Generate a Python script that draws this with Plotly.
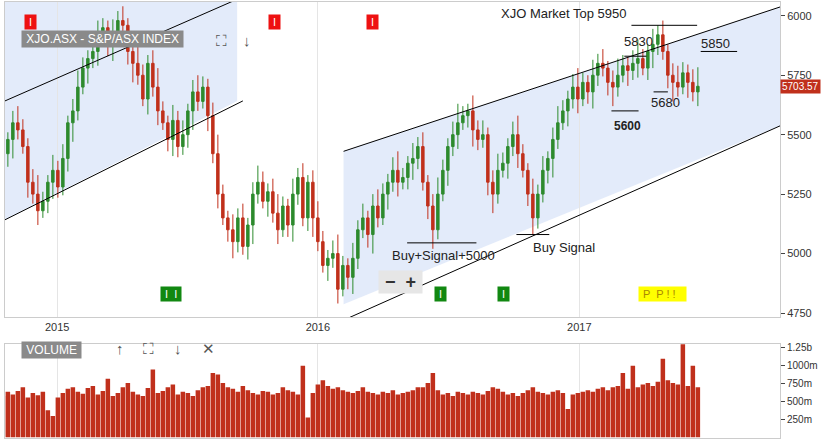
import plotly.graph_objects as go
import pandas as pd

# weekly closes (Oct 2014 - Jun 2017)
closes = [
    5350, 5420, 5480,
    5550, 5520, 5450, 5300,
    5250, 5180, 5220, 5300, 5350,
    5280, 5400, 5550, 5600,
    5700, 5780, 5820, 5850,
    5900, 5950, 5880, 5920,
    5980, 5960, 5850, 5800, 5750,
    5650, 5800, 5700, 5600,
    5550, 5480, 5560, 5450,
    5500, 5600, 5680, 5640, 5700,
    5580, 5420, 5250, 5150,
    5100, 5050, 5150, 5030,
    5120, 5250, 5300, 5220, 5260,
    5170, 5100, 5200, 5120,
    5250, 5320, 5150, 5300,
    5150, 5050, 4950, 4980, 5000,
    4850, 4950, 4900, 4980,
    5100, 5150, 5080, 5200,
    5150, 5250, 5300, 5350, 5300,
    5320, 5380, 5400, 5450,
    5300, 5200, 5100, 5250,
    5350, 5450, 5500, 5550, 5580,
    5600, 5520, 5480, 5500,
    5300, 5250, 5350, 5380,
    5450, 5500, 5420, 5350,
    5250, 5150, 5250, 5350, 5400,
    5480, 5550, 5600, 5650,
    5700, 5650, 5720, 5680,
    5750, 5800, 5780, 5720,
    5700, 5750, 5790, 5770, 5800,
    5820, 5780, 5850, 5880,
    5920, 5850, 5750, 5720,
    5700, 5760, 5720, 5680, 5703.57,
]
opens = [5300] + closes[:-1]
wicks = [40, 60, 30, 50, 70, 45, 35, 55, 80, 40, 30, 65]

volumes = [
    620, 580, 640,
    600, 650, 700, 560,
    620, 590, 640, 380, 300,
    560, 620, 680, 700,
    640, 610, 690, 720,
    600, 650, 820, 580,
    620, 700, 760, 640, 600,
    580, 690, 950, 620,
    650, 700, 740, 600,
    640, 620, 580, 660, 700,
    720, 900, 880, 760,
    700, 680, 640, 720,
    660, 620, 600, 650, 640,
    600, 620, 700, 660,
    640, 600, 1000, 280,
    620, 740, 800, 720, 680,
    700, 660, 640, 620,
    650, 700, 640, 620,
    600, 640, 620, 660, 600,
    620, 640, 660, 700,
    700, 760, 900, 660,
    600, 620, 580, 640, 620,
    600, 640, 620, 600,
    650, 700, 680, 640,
    600, 620, 580, 620,
    660, 700, 640, 620, 600,
    640, 660, 620, 400,
    600, 620, 640, 660,
    640, 680, 700, 660,
    700, 720, 900, 680, 1000,
    700, 740, 760, 720,
    780, 1100, 800, 760,
    740, 1350, 720, 1000, 700,
]

dates = pd.date_range("2014-10-10", periods=len(closes), freq="7D")
highs = [max(o, c) + wicks[i % len(wicks)] for i, (o, c) in enumerate(zip(opens, closes))]
lows = [min(o, c) - wicks[(i + 5) % len(wicks)] for i, (o, c) in enumerate(zip(opens, closes))]

RED = "#c0301c"
GREEN = "#2e8b2e"
X0, X1 = "2014-10-20", "2017-10-09"

fig = go.Figure()
fig.add_trace(go.Candlestick(
    x=dates, open=opens, high=highs, low=lows, close=closes,
    increasing=dict(line=dict(color=GREEN, width=1), fillcolor=GREEN),
    decreasing=dict(line=dict(color=RED, width=1), fillcolor=RED),
    whiskerwidth=0, xaxis="x", yaxis="y", showlegend=False,
))
fig.add_trace(go.Bar(x=dates, y=volumes, marker_color=RED, marker_line_width=0,
                     xaxis="x2", yaxis="y2", showlegend=False))

chan = "rgba(200,215,245,0.5)"
fig.add_shape(type="path", xref="x", yref="y", layer="below", line_width=0, fillcolor=chan,
              path=f"M {X0},5142 L {X0},6058 L 2015-09-10,6058 L 2015-09-10,5642 Z")
fig.add_shape(type="path", xref="x", yref="y", layer="below", line_width=0, fillcolor=chan,
              path=f"M 2016-02-06,4787 L 2016-02-06,5430 L {X1},6037 L {X1},5537 Z")
for x0, y0, x1, y1 in [(X0, 5142, "2015-09-18", 5642),
                       (X0, 5642, "2015-09-18", 6080),
                       ("2016-02-06", 5430, X1, 6037),
                       ("2016-02-06", 4720, X1, 5537)]:
    fig.add_shape(type="line", x0=x0, y0=y0, x1=x1, y1=y1, xref="x", yref="y",
                  line=dict(color="black", width=1))
for x0, x1, lvl in [("2017-03-15", "2017-06-15", 5960), ("2017-06-20", "2017-08-10", 5850),
                    ("2017-03-05", "2017-04-05", 5830), ("2017-04-15", "2017-05-05", 5680),
                    ("2017-02-15", "2017-03-25", 5600), ("2016-05-05", "2016-08-10", 5045),
                    ("2016-10-05", "2016-11-20", 5080)]:
    fig.add_shape(type="line", x0=x0, x1=x1, y0=lvl, y1=lvl, xref="x", yref="y",
                  line=dict(color="black", width=1))

notes = [
    ("2016-12-10", 6010, "XJO Market Top 5950", False),
    ("2017-03-25", 5890, "5830", False),
    ("2017-07-10", 5885, "5850", False),
    ("2017-05-01", 5635, "5680", False),
    ("2017-03-10", 5535, "5600", True),
    ("2016-06-25", 4990, "Buy+Signal+5000", False),
    ("2016-12-10", 5025, "Buy Signal", False),
    ("2016-03-01", 4722, "4700+Support", False),
]
for x, y, t, b in notes:
    fig.add_annotation(x=x, y=y, xref="x", yref="y", text=f"<b>{t}</b>" if b else t,
                       showarrow=False, font=dict(size=13 if not b else 12, color="#222"))

for x, y, t in [(0.02, 0.936, " XJO.ASX - S&P/ASX INDEX "), (0.02, 0.188, " VOLUME ")]:
    fig.add_annotation(x=x, y=y, xref="paper", yref="paper", text=t, showarrow=False,
                       xanchor="left", bgcolor="#8a8a8a", font=dict(color="white", size=12))
for x, y, t in [(0.27, 0.936, "⛶"), (0.305, 0.936, "↓"), (0.14, 0.188, "↑"),
                (0.175, 0.188, "⛶"), (0.215, 0.188, "↓"), (0.252, 0.188, "✕")]:
    fig.add_annotation(x=x, y=y, xref="paper", yref="paper", text=t, showarrow=False,
                       font=dict(size=15, color="#555"))
for x in [0.024, 0.348, 0.474]:
    fig.add_annotation(x=x, y=0.972, xref="paper", yref="paper", text=" I ", showarrow=False,
                       bgcolor="#ee1111", font=dict(color="white", size=11))
for x, t in [(0.2, " I  I "), (0.562, " I "), (0.643, " I ")]:
    fig.add_annotation(x=x, y=0.318, xref="paper", yref="paper", text=t, showarrow=False,
                       bgcolor="#118811", font=dict(color="white", size=11))
fig.add_annotation(x=0.88, y=0.318, xref="paper", yref="paper", text=" P  P ! !   ", showarrow=False,
                   bgcolor="#ffff00", font=dict(color="#aa8800", size=11))
fig.add_annotation(x=0.51, y=0.364, xref="paper", yref="paper", text=" <b>−</b>  <b>+</b> ", showarrow=False,
                   bgcolor="#e6e6e6", font=dict(color="#333", size=18))
fig.add_annotation(x=1.0, y=5703.57, xref="paper", yref="y", text="5703.57", showarrow=False,
                   xanchor="left", bgcolor=RED, font=dict(color="white", size=10))

axis_common = dict(range=[X0, X1], showgrid=True, gridcolor="#e5e5e5", tickformat="%Y",
                   dtick="M12", tick0="2015-01-01", showline=True, linecolor="#ccc",
                   mirror=True, automargin=False)
fig.update_layout(
    width=829, height=444, margin=dict(l=5, r=49, t=2, b=2, autoexpand=False),
    plot_bgcolor="white", paper_bgcolor="white",
    font=dict(family="Arial", size=11, color="#333"),
    xaxis=dict(anchor="y", rangeslider=dict(visible=False), **axis_common),
    xaxis2=dict(anchor="y2", matches="x", showticklabels=False, **axis_common),
    yaxis=dict(domain=[0.284, 1], range=[4733, 6058], side="right", automargin=False,
               tickvals=[4750, 5000, 5250, 5500, 5750, 6000], showgrid=False,
               showline=True, linecolor="#ccc", mirror=True, ticks="outside", ticklen=4),
    yaxis2=dict(domain=[0.01, 0.222], range=[0, 1300], side="right", automargin=False,
                tickvals=[250, 500, 750, 1000, 1250], ticktext=["250m", "500m", "750m", "1000m", "1.25b"],
                showgrid=False, showline=True, linecolor="#ccc", mirror=True,
                ticks="outside", ticklen=4, tickfont=dict(size=10)),
    bargap=0.1,
)
fig.write_html("out.html", config={"displayModeBar": False},
               post_script="document.body.style.margin='0';")
